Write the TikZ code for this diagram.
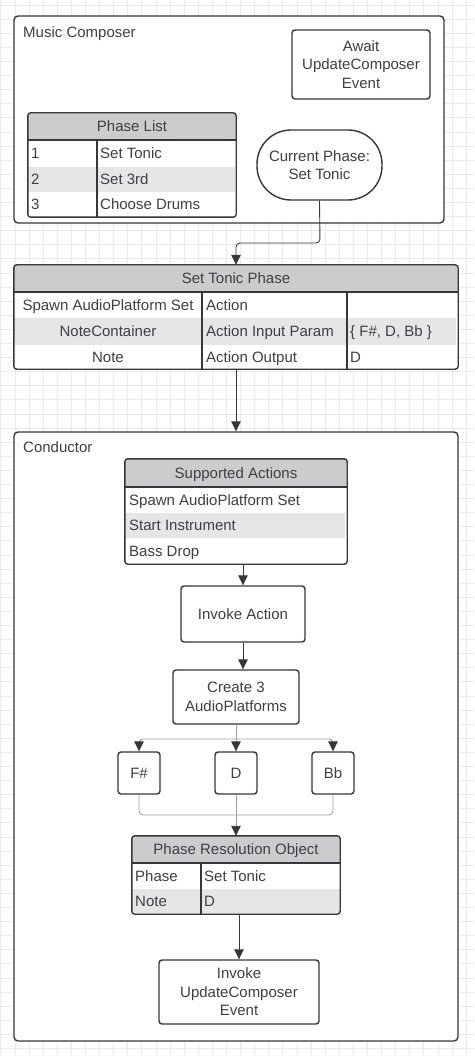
\documentclass[tikz,border=0pt]{standalone}
\usepackage{fontspec}
\setmainfont{Liberation Sans}
\usetikzlibrary{arrows.meta,calc}
\definecolor{ink}{HTML}{33383D}
\definecolor{txt}{HTML}{3B4047}
\definecolor{hdrc}{HTML}{CCCCCC}
\definecolor{rowc}{HTML}{E6E6E6}
\definecolor{lightc}{HTML}{A0A0A0}
\definecolor{gridc}{HTML}{EAEAEA}
\begin{document}
\begin{tikzpicture}[x=1pt,y=-1pt,
  font=\fontsize{15}{18.5}\selectfont, text=txt,
  frame/.style={draw=ink, line width=1.4pt, rounded corners=3pt},
  plain/.style={fill=white, inner sep=0pt},
  box/.style={draw=ink, line width=1.4pt, rounded corners=3pt, fill=white, inner sep=0pt, align=center},
  t/.style={inner sep=0pt, text height=10.7pt, text depth=0pt},
  tl/.style={t, anchor=west},
  sep/.style={draw=ink, line width=1.4pt},
  arr/.style={draw=ink, line width=0.9pt, -{Triangle[length=10pt,width=9.5pt]}},
  larr/.style={draw=lightc, line width=0.9pt, -{Triangle[length=10pt,width=9.5pt,color=ink]}},
  lline/.style={draw=lightc, line width=0.9pt, rounded corners=4pt},
]
\useasboundingbox (0,0) rectangle (474,1056);
\fill[white] (0,0) rectangle (474,1056);
\foreach \i in {0,...,34} \draw[gridc, line width=0.7pt] ({0.8+\i*14.1},0) -- ({0.8+\i*14.1},1056);
\foreach \i in {0,...,75} \draw[gridc, line width=0.7pt] (0,{5+\i*14.1}) -- (474,{5+\i*14.1});

% ---------------- Music Composer ----------------
\node[box, minimum width=430pt, minimum height=207pt, rounded corners=4pt] (mc) at (229,119.5) {};
\node[tl] (mcl) at (23,32) {Music Composer};
\node[box, minimum width=138pt, minimum height=69pt] (await) at (361,64.5) {Await\\UpdateComposer\\Event};

% Phase List table
\node[plain, minimum width=208pt, minimum height=104pt] (pl) at (132,165) {};
\fill[hdrc, rounded corners=3pt] (28,113) rectangle (236,140);
\fill[hdrc] (28,128) rectangle (236,140);
\fill[rowc] (28,167) rectangle (235,192);
\draw[sep] (28,140) -- (236,140);
\draw[sep] (97,140) -- (97,217);
\draw[frame] (pl.south west) rectangle (pl.north east);
\node[t] (plh) at (132,126.5) {Phase List};
\node[tl] (pl1a) at (31,153.5) {1};
\node[tl] (pl1b) at (100,153.5) {Set Tonic};
\node[tl] (pl2a) at (31,179.5) {2};
\node[tl] (pl2b) at (100,179.5) {Set 3rd};
\node[tl] (pl3a) at (31,204.5) {3};
\node[tl] (pl3b) at (100,204.5) {Choose Drums};

\node[box, minimum width=125pt, minimum height=70pt, rounded corners=34pt] (cur) at (319.5,165) {Current Phase:\\Set Tonic};

% ---------------- Set Tonic Phase table ----------------
\node[plain, minimum width=444pt, minimum height=104pt] (stp) at (236,317) {};
\fill[hdrc, rounded corners=3pt] (14,265) rectangle (458,292);
\fill[hdrc] (14,280) rectangle (458,292);
\fill[rowc] (14,318) rectangle (456,345);
\draw[sep] (14,292) -- (458,292);
\draw[sep] (202,292) -- (202,369);
\draw[sep] (347,292) -- (347,369);
\draw[frame] (stp.south west) rectangle (stp.north east);
\node[t] (stph) at (236,278.5) {Set Tonic Phase};
\node[t] (s11) at (108,305) {Spawn AudioPlatform Set};
\node[tl] (s12) at (206,305) {Action};
\node[t] (s21) at (108,331.5) {NoteContainer};
\node[tl] (s22) at (206,331.5) {Action Input Param};
\node[tl] (s23) at (350,331.5) {\{ F\#, D, Bb \}};
\node[t] (s31) at (108,357) {Note};
\node[tl] (s32) at (206,357) {Action Output};
\node[tl] (s33) at (350,357) {D};

\coordinate (j1) at (320,243);
\draw[arr, rounded corners=4pt] (cur.south) -- (j1) -| (stp.north);

% ---------------- Conductor ----------------
\node[box, minimum width=444pt, minimum height=609pt, rounded corners=4pt] (cond) at (236,736.5) {};
\node[tl] (condl) at (23,447) {Conductor};
\draw[arr] (stp.south) -- (cond.north);

% Supported Actions table
\node[plain, minimum width=222pt, minimum height=105pt] (sa) at (236,511.5) {};
\fill[hdrc, rounded corners=3pt] (125,459) rectangle (347,487);
\fill[hdrc] (125,474) rectangle (347,487);
\fill[rowc] (125,513) rectangle (345,538);
\draw[sep] (125,487) -- (347,487);
\draw[frame] (sa.south west) rectangle (sa.north east);
\node[t] (sah) at (236,473) {Supported Actions};
\node[tl] (sa1) at (129,500) {Spawn AudioPlatform Set};
\node[tl] (sa2) at (129,525.5) {Start Instrument};
\node[tl] (sa3) at (129,551) {Bass Drop};

\node[box, minimum width=124pt, minimum height=56pt] (inv) at (243,614) {Invoke Action};
\node[box, minimum width=126pt, minimum height=54pt] (cr) at (236,697) {Create 3\\AudioPlatforms};
\draw[arr] (sa.south -| inv.north) -- (inv.north);
\draw[arr] (inv.south) -- (cr.north -| inv.south);

\node[box, minimum width=42pt, minimum height=42pt] (fs) at (139,773) {F\#};
\node[box, minimum width=42pt, minimum height=42pt] (dn) at (236,773) {D};
\node[box, minimum width=42pt, minimum height=42pt] (bb) at (333,773) {Bb};

\coordinate (fk) at (236,739);
\draw[lline] (cr.south) -- (fk);
\draw[larr, rounded corners=4pt] (fk) -| (fs.north);
\draw[larr, rounded corners=4pt] (fk) -| (bb.north);
\draw[larr] (fk) -- (dn.north);

% Phase Resolution Object
\node[plain, minimum width=208pt, minimum height=78pt] (pro) at (236,875) {};
\fill[hdrc, rounded corners=3pt] (132,836) rectangle (340,863);
\fill[hdrc] (132,850) rectangle (340,863);
\fill[rowc, rounded corners=3pt] (132,889) rectangle (340,914);
\fill[rowc] (132,889) rectangle (340,900);
\draw[sep] (132,863) -- (340,863);
\draw[sep] (201,863) -- (201,914);
\draw[frame] (pro.south west) rectangle (pro.north east);
\node[t] (proh) at (236,849.5) {Phase Resolution Object};
\node[tl] (pr1a) at (135,876) {Phase};
\node[tl] (pr1b) at (204,876) {Set Tonic};
\node[tl] (pr2a) at (135,901.5) {Note};
\node[tl] (pr2b) at (204,901.5) {D};

\coordinate (mg) at (236,815);
\draw[lline] (fs.south) |- (mg);
\draw[lline] (bb.south) |- (mg);
\draw[lline] (dn.south) -- (mg);
\draw[larr] (mg) -- (pro.north);

\node[box, minimum width=160pt, minimum height=64pt] (upd) at (239,992) {Invoke\\UpdateComposer\\Event};
\draw[arr] (pro.south -| upd.north) -- (upd.north);
\end{tikzpicture}
\end{document}
